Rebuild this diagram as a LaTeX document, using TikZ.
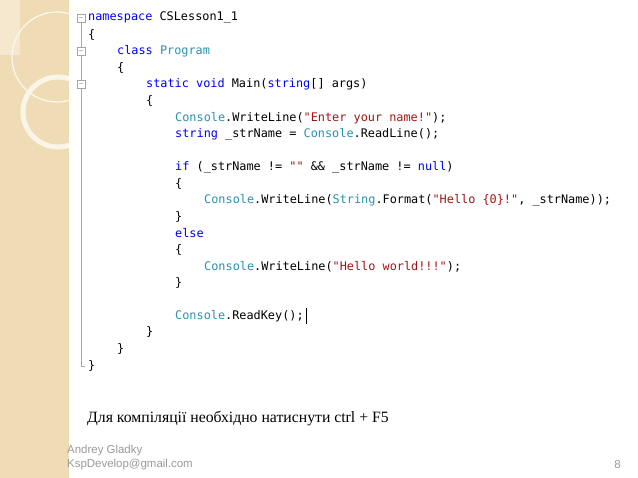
\documentclass[tikz,border=0pt]{standalone}
\usepackage{fontspec}
\setmainfont{Liberation Serif}
\setsansfont{Liberation Sans}
\setmonofont{DejaVu Sans Mono}
\definecolor{band}{HTML}{F0DCB4}
\definecolor{kw}{HTML}{0000FF}
\definecolor{ty}{HTML}{2B91AF}
\definecolor{st}{HTML}{A31515}
\definecolor{foot}{HTML}{9A9A9A}
\newcommand{\K}[1]{\textcolor{kw}{#1}}
\newcommand{\T}[1]{\textcolor{ty}{#1}}
\newcommand{\Sx}[1]{\textcolor{st}{#1}}
\begin{document}
\begin{tikzpicture}[x=1bp,y=-1bp,
  code/.style={anchor=west,inner sep=0pt,font=\ttfamily\fontsize{11.9}{12}\selectfont},
  fold/.style={draw=gray!70,fill=white,line width=0.5bp,minimum size=8bp,inner sep=0pt},
  footer/.style={anchor=west,inner sep=0pt,text=foot,font=\sffamily\fontsize{11.5}{12}\selectfont}]
\useasboundingbox (0,0) rectangle (638,478);
\fill[white] (0,0) rectangle (638,478);
\fill[band] (0,0) rectangle (70,478);
\begin{scope}
\clip (0,0) rectangle (70,478);
\fill[white!35!band] (0,0) rectangle (20,55);
\draw[white!80!band,line width=1.2bp] (57,57) circle (45);
\draw[white!70!band,line width=5bp] (58,112) circle (35);
\end{scope}
\draw[white,line width=1.5bp] (70,0) -- (70,478);
% fold gutter
\draw[gray!70,line width=0.5bp] (81,22) -- (81,366) -- (85,366);
\foreach \y in {18,51,84}{\node[fold] at (81,\y) {\tiny$-$};}
\node[code] (l1) at (88,18) {\K{namespace} CSLesson1\_1};
\node[code] (l2) at (88,35) {\{};
\node[code] (l3) at (117,51) {\K{class} \T{Program}};
\node[code] (l4) at (117,68) {\{};
\node[code] (l5) at (146,84) {\K{static} \K{void} Main(\K{string}[] args)};
\node[code] (l6) at (146,101) {\{};
\node[code] (l7) at (175,118) {\T{Console}.WriteLine(\Sx{"Enter your name!"});};
\node[code] (l8) at (175,134) {\K{string} \_strName = \T{Console}.ReadLine();};
\node[code] (l9) at (175,167) {\K{if} (\_strName != \Sx{""} \&\& \_strName != \K{null})};
\node[code] (l10) at (175,184) {\{};
\node[code] (l11) at (204,200) {\T{Console}.WriteLine(\T{String}.Format(\Sx{"Hello \{0\}!"}, \_strName));};
\node[code] (l12) at (175,217) {\}};
\node[code] (l13) at (175,233) {\K{else}};
\node[code] (l14) at (175,250) {\{};
\node[code] (l15) at (204,267) {\T{Console}.WriteLine(\Sx{"Hello world!!!"});};
\node[code] (l16) at (175,283) {\}};
\node[code] (l17) at (175,316) {\T{Console}.ReadKey();};
\draw[black,line width=0.8bp] ([xshift=3bp]l17.east) ++(0,-8) -- ++(0,16);
\node[code] (l18) at (146,332) {\}};
\node[code] (l19) at (117,349) {\}};
\node[code] (l20) at (88,366) {\}};
\node[anchor=west,inner sep=0pt,font=\fontsize{15.8}{17}\selectfont] (note) at (87,419) {Для компіляції необхідно натиснути ctrl + F5};
\node[footer] (a1) at (67,451) {Andrey Gladky};
\node[footer] (a2) at (67,465) {KspDevelop@gmail.com};
\node[footer,anchor=east] (pg) at (621,465) {8};
\end{tikzpicture}
\end{document}
